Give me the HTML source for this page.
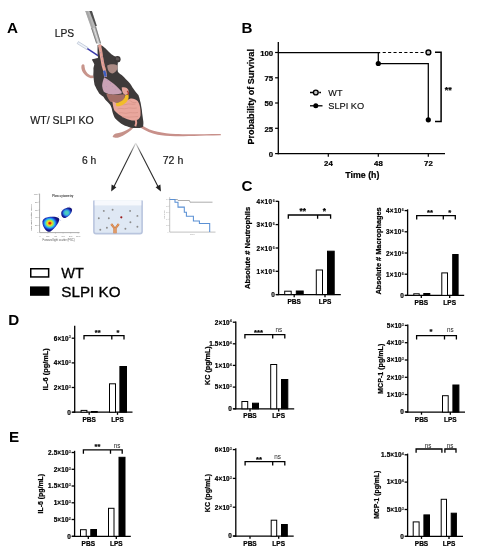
<!DOCTYPE html><html><head><meta charset="utf-8"><title>Figure</title><style>html,body{margin:0;padding:0;background:#fff;}svg{display:block;}</style></head><body>
<svg width="479" height="550" viewBox="0 0 479 550" style="font-family:'Liberation Sans',Arial,Helvetica,sans-serif">
<rect width="479" height="550" fill="#fff"/>
<text x="6.9" y="32.6" font-size="15.2" font-weight="bold">A</text>
<text x="241.5" y="32.7" font-size="15.2" font-weight="bold">B</text>
<text x="241.4" y="190.7" font-size="15.2" font-weight="bold">C</text>
<text x="8.3" y="324.6" font-size="15.2" font-weight="bold">D</text>
<text x="8.9" y="441.9" font-size="15.2" font-weight="bold">E</text>
<text x="54.7" y="37.2" font-size="10.7" font-weight="normal" text-anchor="start" textLength="19.4" lengthAdjust="spacingAndGlyphs" fill="#1a1a1a" stroke="#1a1a1a" stroke-width="0.2">LPS</text>
<text x="30.3" y="124" font-size="11" font-weight="normal" text-anchor="start" textLength="63.4" lengthAdjust="spacingAndGlyphs" fill="#1a1a1a" stroke="#1a1a1a" stroke-width="0.2">WT/ SLPI KO</text>
<text x="82" y="164.3" font-size="11" font-weight="normal" text-anchor="start" textLength="14.3" lengthAdjust="spacingAndGlyphs" fill="#1a1a1a" stroke="#1a1a1a" stroke-width="0.2">6 h</text>
<text x="162.7" y="164.3" font-size="11" font-weight="normal" text-anchor="start" textLength="20.6" lengthAdjust="spacingAndGlyphs" fill="#1a1a1a" stroke="#1a1a1a" stroke-width="0.2">72 h</text>
<g id="mouse">
<!-- tail -->
<path d="M141.8 125.2 C147 128.5 152 130.8 157.7 131.8 C163 132.9 169 133.8 175.5 134 C185 134.3 200 134.2 220.7 133.9 L220.9 135.2 C200 135.6 185 136.2 175.5 136.2 C168 136 162 135.6 157.7 134.8 C151 133.6 146 131 140.6 127.8 Z" fill="#c8908a"/>
<!-- hind foot -->
<path d="M131.8 126.6 C128.5 129.4 125 131.2 121.5 132.2 C119.5 132.8 117.5 133.2 115.8 133.6 C114.4 134.2 113 135.5 112.6 137 C114 137.8 116.5 138 118.5 137.6 C121 136.8 124.5 135 127.6 132.8 C130 131 132.2 129.2 133.8 127.4 Z" fill="#c6928a"/>
<!-- front arm -->
<path d="M81.6 65.2 C80.9 67.4 81.6 70.2 83 72.6 C84.6 75.2 87.4 77.4 90.8 78.2 L93.8 78 L93.6 75.4 L90.6 75.4 C88.4 74.6 86.6 72.8 85.6 70.6 C84.8 68.8 84.6 66.8 84.4 65 C83.6 63.8 82.3 64 81.6 65.2 Z" fill="#c8958c"/>
<!-- body -->
<path d="M97.6 45 L100.5 44.6 C102.5 46 104 47.2 105.6 48.4 C107.5 50.5 109.5 52.5 111.4 54.2 C113 55.5 114.5 56.2 115.6 56.7 L117.9 62.9 C117.4 65 117.4 69 117.9 71.7 C119 72.9 120 74 121.7 75 C123.2 76.4 124.6 77.8 125.9 79.2 C127.3 80.6 128.7 82 130 83.4 C131 84.8 131.8 86.2 132.5 87.6 C133.4 88.7 134.2 89.8 135 90.9 C136.3 92.5 137.5 94 138.4 95 C139.2 97 139.7 99 140.1 100.9 C140.8 103 141 105 141.3 106.7 C141.8 109 142 111 142.2 113.4 C142.5 115.3 142.8 117.3 143 119.2 C143.3 121 143.5 122.4 143.4 123.4 C143.3 125 143.2 126 143 126.7 C141.6 127.6 140 128 138.4 128 L133.4 128 C131.7 128 130.2 127.6 128.8 126.9 C127.6 126.5 126.3 126.1 125 125.7 C123.7 125.1 122.5 124.5 121.3 123.8 C120.2 123 119.2 122.2 118.2 121.3 C117 120.3 116 119.3 115 118.2 C114.4 117.2 113.9 116.1 113.5 115 C113.1 114 112.8 113 112.5 111.9 C112.2 110.6 111.9 109.4 111.6 108.1 C111.2 107.1 110.8 106 110.3 105 C109.6 104.1 108.9 103.3 108.1 102.5 C107.3 101.7 106.5 100.8 105.6 100 C104.9 99 104.1 97.8 103.4 96.7 C102 95.6 100.6 94.5 99.2 93.4 C98.4 92 97.5 90.6 96.7 89.2 C96 87.8 95.3 86.4 94.6 85 C94.3 83.3 94 81.7 93.8 80 C93.6 78.3 93.5 76.6 93.3 75 C93.4 73 93.6 70.4 93.4 68.4 C93.6 66.8 94.2 65.6 94.3 64.2 C93.7 62.8 93.2 61.8 92.6 60.9 L91.8 59.6 C92.8 59.3 93.7 59 94.7 58.8 C95.8 58.5 96.9 58.2 98 58 C97.8 56.6 97.6 55.4 97.6 54.2 C97.5 51 97.5 48 97.6 45 Z" fill="#3e3a3a"/>
<!-- ear -->
<circle cx="117.4" cy="59.2" r="3.2" fill="#3b3737"/>
<path d="M116 57.6 C117.6 56.8 119.3 57.8 119.5 59.6 C118.7 60.8 116.9 61 115.9 59.8 Z" fill="#5c5454"/>
<!-- cheek patch -->
<path d="M107.2 65.4 C110.4 63.6 115 63.8 117.4 65.6 C118 69.4 116 72.8 112.4 73.4 C109.4 73.2 107.4 70.4 107.2 65.4 Z" fill="#ab8a84"/>
<!-- esophagus/trachea (pink strip) -->
<path d="M99.6 45.6 C100.6 50 101.2 53.5 101.5 56.7 C102.1 59.6 102.6 62.3 103 65 C103.6 67 104.2 69 104.7 70.9 C105 72.8 105.4 74.8 105.6 77" fill="none" stroke="#e5a498" stroke-width="3"/>
<path d="M100.8 48 C102 53 102.8 58 103.6 62.5 C104.2 65.5 105 68.5 105.8 71.5" fill="none" stroke="#cf8a82" stroke-width="0.5"/>
<path d="M104.1 70.6 L105.7 76.6" stroke="#3c60c2" stroke-width="2.4"/>
<g fill="#7270bd"><circle cx="100.6" cy="52.8" r="0.4"/><circle cx="101.7" cy="57" r="0.4"/><circle cx="102.6" cy="61" r="0.4"/><circle cx="103.3" cy="65" r="0.4"/></g>
<!-- lungs -->
<path d="M104.2 77.4 C107.5 79 111 81.5 114 84 C117 86.5 120 89.3 121.7 91.8 C121.9 92.6 121.8 93.2 121.4 93.6 C118 94.4 114.5 94.8 110.9 94.6 C108.4 94.2 105.9 93.2 103.8 91.7 C102.9 89.8 102.3 87.8 102.1 85.9 C102.2 83 103 80 104.2 77.4 Z" fill="#c9a2b5"/>
<g fill="#9c84bb" opacity="0.85"><circle cx="107.2" cy="80.2" r="0.45"/><circle cx="110.4" cy="83.3" r="0.45"/><circle cx="112.8" cy="86.3" r="0.4"/><circle cx="115.2" cy="89.2" r="0.4"/><circle cx="106.2" cy="86.4" r="0.4"/></g>
<!-- heart / pink organ -->
<path d="M121.7 87.6 C124.2 86.6 127.6 87.4 128.5 90.2 C129 92.6 127.6 94.6 125.2 95 C123 94.4 121.9 91.4 121.7 87.6 Z" fill="#e3a49a"/>
<path d="M127.1 90.8 C128.3 92 128.7 93.6 128.3 95.2" fill="none" stroke="#b03a30" stroke-width="1.1"/>
<!-- liver -->
<path d="M106.3 93.8 C112 94.8 118.5 95 124.6 94.2 C125.2 96.6 124.8 99.4 122.8 101.4 C119 102.6 114.6 102.7 110.4 101.8 C108.4 99.6 107.1 96.9 106.3 93.8 Z" fill="#a46e66"/>
<!-- intestines -->
<path d="M112.4 101.4 C117 103 122.6 103.6 127.2 100 C130.6 97.4 134.7 98.2 137.7 100.9 C140.2 104.5 140.9 110.5 140.5 115.2 C140 118.8 137.5 120.3 134 120.6 C132.5 120.6 131.2 120.4 130 120 C128.3 119.4 126.6 118.8 125 118.2 C122.9 117 120.8 115.7 118.8 114.4 C117.2 113.2 115.6 112 114.4 110.6 C113.6 108.6 113 106.4 112.4 101.4 Z" fill="#e9a79d"/>
<g fill="none" stroke="#d08b81" stroke-width="0.55">
<path d="M117 105 C120 103.5 123 105.5 126 104.5 C129 103 132 105 135.5 104"/>
<path d="M117.5 109 C120.5 107.5 123.5 109.5 126.5 108.5 C129.5 107 132.5 109 136.8 108"/>
<path d="M119 113 C122 112 125 114 128 113 C131 112 134 113.5 138 112.5"/>
<path d="M122 117 C125 116.5 128 117.5 131 117 C133.5 116.6 136 117 138.2 116.5"/>
<path d="M129.5 100 C131 102 133 103 136.5 102.5"/>
</g>
<path d="M135.8 119.4 C136.5 121.8 136.3 124.2 135.3 126.2" fill="none" stroke="#e59e94" stroke-width="2"/>
<!-- yellow -->
<path d="M116.6 106.2 C121.5 106.4 126.4 103.6 128.2 99.2 C128.9 97.6 128.8 96 128.2 94.6 L125.2 95.2 C125 97.9 123.3 100.2 120.6 101.6 C119.2 102.3 117.8 102.8 116.2 103 C115.8 104 115.9 105.2 116.6 106.2 Z" fill="#f2bd28"/>
<!-- forceps -->
<path d="M85.3 11.1 L91.9 11.1 L101 43.4 L96.4 43.4 Z" fill="#b8b8b8"/>
<path d="M85.3 11.1 L87.6 11.1 L93.2 28 L91.6 28 Z" fill="#a6a6a6"/>
<path d="M89.4 11.1 L91.9 11.1 L96.9 26 L95.2 26 Z" fill="#4e4e4e"/>
<path d="M91.6 28 L96.6 43.4 M95.4 26.5 L100.6 43.4" stroke="#707070" stroke-width="0.8" fill="none"/>
<path d="M93.8 28 L98.6 43.2" stroke="#e6e6e6" stroke-width="0.9" fill="none"/>
<!-- catheter -->
<path d="M78.4 41.6 L88 47.6 L86.8 49.6 L77.2 43.6 Z" fill="#eef2f8" stroke="#9aa8c0" stroke-width="0.5"/>
<path d="M87.4 48.6 L98 55.6" stroke="#3a3aa8" stroke-width="1.5"/>
<!-- nose -->
<path d="M98 45.2 C99 44 101.4 44.2 102 45.6 C101.4 46.8 99.4 47.4 98.4 46.6 Z" fill="#e2a095"/>
</g>

<defs><linearGradient id="ga" x1="0" y1="0" x2="0" y2="1"><stop offset="0" stop-color="#222" stop-opacity="0.1"/><stop offset="0.25" stop-color="#222" stop-opacity="0.9"/><stop offset="1" stop-color="#222"/></linearGradient></defs>
<path d="M135.7 143 L113 188.5 M135.7 143 L159 188.5" stroke="url(#ga)" stroke-width="1.1" fill="none"/>
<path d="M111.2 191.6 L111.6 184.6 L116.4 187.3 Z" fill="#222"/>
<path d="M160.9 191.6 L155.6 187.3 L160.4 184.6 Z" fill="#222"/>
<g id="flow">
<defs>
<radialGradient id="fb1" cx="0.44" cy="0.43" r="0.6">
<stop offset="0" stop-color="#c80a10"/><stop offset="0.1" stop-color="#e4301a"/><stop offset="0.22" stop-color="#f8d81e"/><stop offset="0.34" stop-color="#a8e050"/><stop offset="0.45" stop-color="#38cce0"/><stop offset="0.57" stop-color="#2080ee"/><stop offset="0.68" stop-color="#1a34c0"/><stop offset="0.78" stop-color="#12188a"/><stop offset="1" stop-color="#0e0e70"/>
</radialGradient>
<radialGradient id="fb2" cx="0.5" cy="0.5" r="0.58">
<stop offset="0" stop-color="#58d4b8"/><stop offset="0.3" stop-color="#44c6c8"/><stop offset="0.5" stop-color="#2c88e4"/><stop offset="0.68" stop-color="#1a34b0"/><stop offset="0.82" stop-color="#12188a"/><stop offset="1" stop-color="#0e0e70"/>
</radialGradient>
</defs>
<path d="M39.6 193.8 V232.6 H79.6" fill="none" stroke="#8a8a8a" stroke-width="0.7"/>
<g stroke="#8a8a8a" stroke-width="0.4">
<line x1="38.7" y1="193.8" x2="39.6" y2="193.8"/><line x1="38.7" y1="201.8" x2="39.6" y2="201.8"/><line x1="38.7" y1="209.8" x2="39.6" y2="209.8"/><line x1="38.7" y1="217.6" x2="39.6" y2="217.6"/><line x1="38.7" y1="225.4" x2="39.6" y2="225.4"/>
<line x1="47.8" y1="232.6" x2="47.8" y2="233.5"/><line x1="55.5" y1="232.6" x2="55.5" y2="233.5"/><line x1="63.1" y1="232.6" x2="63.1" y2="233.5"/><line x1="70.7" y1="232.6" x2="70.7" y2="233.5"/><line x1="78.2" y1="232.6" x2="78.2" y2="233.5"/>
</g>
<text x="62.8" y="196.7" font-size="2.9" text-anchor="middle" fill="#333" font-weight="bold">Flow cytometry</text>
<text transform="translate(32.4 217.5) rotate(-90)" font-size="2.5" text-anchor="middle" fill="#555" textLength="26.5" lengthAdjust="spacingAndGlyphs">Side light scatter (SSC)</text>
<text x="58.6" y="241.4" font-size="2.8" text-anchor="middle" fill="#555" textLength="32" lengthAdjust="spacingAndGlyphs">Forward light scatter (FSC)</text>
<g font-size="2" fill="#777" text-anchor="end"><text x="38.3" y="194.5">1000</text><text x="38.3" y="202.5">800</text><text x="38.3" y="210.5">600</text><text x="38.3" y="218.3">400</text><text x="38.3" y="226.1">200</text><text x="38.3" y="233.3">0</text></g>
<g font-size="2" fill="#777" text-anchor="middle"><text x="40" y="236.6">0</text><text x="47.8" y="236.6">200</text><text x="55.5" y="236.6">400</text><text x="63.1" y="236.6">600</text><text x="70.7" y="236.6">800</text><text x="78.2" y="236.6">1000</text></g>
<path d="M42.5 221.5 C43 218 47 217 52 216.8 C55.5 216.7 58 217.2 59 218.6 C59.6 220 58.8 222 57.5 224 C55.5 227 53 230 50.5 231.4 C48.8 232.2 47 231.6 45.6 230 C43.5 227.5 42.2 224.5 42.5 221.5 Z" fill="url(#fb1)"/>
<path d="M61.2 213 C61.5 210 66 207.4 69.5 207.6 C72 207.8 72.6 209.8 71.6 212 C70.5 214.5 68.3 216.8 65.8 217.8 C63.5 218.6 61 216.8 61.2 213 Z" fill="url(#fb2)"/>
<g fill="#3040b0" opacity="0.7"><circle cx="59.8" cy="219.8" r="0.35"/><circle cx="60.8" cy="220.6" r="0.3"/><circle cx="58.6" cy="216.6" r="0.3"/><circle cx="69.8" cy="206.8" r="0.3"/><circle cx="62" cy="209.2" r="0.3"/><circle cx="72" cy="209" r="0.3"/><circle cx="53" cy="216.5" r="0.3"/></g>
</g>
<g id="beaker">
<path d="M93.9 200.6 V231.5 Q93.9 233.6 96 233.6 H140 Q142.1 233.6 142.1 231.5 V200.6" fill="#dfe8f4" stroke="#b9c5de" stroke-width="1.6"/>
<rect x="94.7" y="200.6" width="46.6" height="4.8" fill="#f7f9fd"/>
<g fill="#8c8c8c">
<circle cx="103.8" cy="210.9" r="0.95"/><circle cx="112.6" cy="209.8" r="0.95"/><circle cx="130.1" cy="210.9" r="0.95"/><circle cx="98.8" cy="218.2" r="0.95"/><circle cx="108.8" cy="218.2" r="0.95"/><circle cx="137.4" cy="215.9" r="0.95"/><circle cx="130.4" cy="222.3" r="0.95"/><circle cx="100.3" cy="229.8" r="0.95"/><circle cx="106.9" cy="227.8" r="0.95"/><circle cx="125.4" cy="228.8" r="0.95"/><circle cx="137.4" cy="226.7" r="0.95"/>
</g>
<circle cx="121.3" cy="217.3" r="1.1" fill="#9a1a1a"/>
<path d="M111.2 224 L114.4 228.2 V233.2 M118.8 224 L115.6 228.2 V233.2" fill="none" stroke="#d07a3c" stroke-width="2.1"/>
<path d="M111.2 224 L114.4 228.2 V233.2 M118.8 224 L115.6 228.2 V233.2" fill="none" stroke="#eeb890" stroke-width="0.6"/>
</g>
<g id="surv">
<path d="M169.7 197.2 V232.1 H215.5" fill="none" stroke="#a8a8a8" stroke-width="0.7"/>
<g stroke="#a8a8a8" stroke-width="0.4"><line x1="168.8" y1="199.5" x2="169.7" y2="199.5"/><line x1="168.8" y1="206" x2="169.7" y2="206"/><line x1="168.8" y1="212.6" x2="169.7" y2="212.6"/><line x1="168.8" y1="219.1" x2="169.7" y2="219.1"/><line x1="168.8" y1="225.6" x2="169.7" y2="225.6"/></g>
<g font-size="1.7" fill="#999" text-anchor="end"><text x="168.4" y="200.1">1.0</text><text x="168.4" y="206.6">0.8</text><text x="168.4" y="213.2">0.6</text><text x="168.4" y="219.7">0.4</text><text x="168.4" y="226.2">0.2</text><text x="168.4" y="232.6">0</text></g>
<path d="M169.7 199.5 H177.5 L178 200.5 H189.5 L190 202.2 H212.5" fill="none" stroke="#a4a4a4" stroke-width="0.9"/>
<path d="M169.7 199.5 H175 V202.2 H178 V207.1 H184.3 V212.3 H186.4 V216.2 H193.4 V221 H199.4 V223.5 H209.7 V232.1" fill="none" stroke="#5a90d4" stroke-width="1.05"/>
<text transform="translate(165.2 214.5) rotate(-90)" font-size="2.4" text-anchor="middle" fill="#888">Survival</text>
<text x="192.5" y="235.4" font-size="2.2" text-anchor="middle" fill="#999">Time</text>
</g>

<rect x="30.75" y="268.75" width="17.9" height="8.2" fill="#fff" stroke="#000" stroke-width="1.5"/>
<rect x="30" y="286.4" width="19.4" height="9.4" fill="#000"/>
<text x="61.3" y="278.4" font-size="14.5" font-weight="normal" text-anchor="start" fill="#000" textLength="22.6" lengthAdjust="spacingAndGlyphs" stroke="#000" stroke-width="0.3">WT</text>
<text x="61.3" y="296.7" font-size="14.5" font-weight="normal" text-anchor="start" fill="#000" textLength="59.3" lengthAdjust="spacingAndGlyphs" stroke="#000" stroke-width="0.3">SLPI KO</text>
<line x1="278.3" y1="42" x2="278.3" y2="154.3" stroke="#000" stroke-width="1.3" />
<line x1="277.7" y1="153.7" x2="445" y2="153.7" stroke="#000" stroke-width="1.3" />
<line x1="275.1" y1="52.5" x2="278.3" y2="52.5" stroke="#000" stroke-width="1.2" />
<text x="273.2" y="55.7" font-size="7.8" font-weight="bold" text-anchor="end" stroke="#000" stroke-width="0.22">100</text>
<line x1="275.1" y1="77.8" x2="278.3" y2="77.8" stroke="#000" stroke-width="1.2" />
<text x="273.2" y="81.0" font-size="7.8" font-weight="bold" text-anchor="end" stroke="#000" stroke-width="0.22">75</text>
<line x1="275.1" y1="103" x2="278.3" y2="103" stroke="#000" stroke-width="1.2" />
<text x="273.2" y="106.2" font-size="7.8" font-weight="bold" text-anchor="end" stroke="#000" stroke-width="0.22">50</text>
<line x1="275.1" y1="128.3" x2="278.3" y2="128.3" stroke="#000" stroke-width="1.2" />
<text x="273.2" y="131.5" font-size="7.8" font-weight="bold" text-anchor="end" stroke="#000" stroke-width="0.22">25</text>
<line x1="275.1" y1="153.6" x2="278.3" y2="153.6" stroke="#000" stroke-width="1.2" />
<text x="273.2" y="156.79999999999998" font-size="7.8" font-weight="bold" text-anchor="end" stroke="#000" stroke-width="0.22">0</text>
<line x1="328.3" y1="153.7" x2="328.3" y2="156.8" stroke="#000" stroke-width="1.2" />
<text x="328.40000000000003" y="166.4" font-size="7.8" font-weight="bold" text-anchor="middle" stroke="#000" stroke-width="0.22">24</text>
<line x1="378.3" y1="153.7" x2="378.3" y2="156.8" stroke="#000" stroke-width="1.2" />
<text x="378.40000000000003" y="166.4" font-size="7.8" font-weight="bold" text-anchor="middle" stroke="#000" stroke-width="0.22">48</text>
<line x1="428.3" y1="153.7" x2="428.3" y2="156.8" stroke="#000" stroke-width="1.2" />
<text x="428.40000000000003" y="166.4" font-size="7.8" font-weight="bold" text-anchor="middle" stroke="#000" stroke-width="0.22">72</text>
<text x="362.4" y="177.8" font-size="8.8" font-weight="bold" text-anchor="middle" stroke="#000" stroke-width="0.22">Time (h)</text>
<text transform="translate(253.6 96.8) rotate(-90)" font-size="9" font-weight="bold" text-anchor="middle" textLength="95.4" lengthAdjust="spacingAndGlyphs" stroke="#000" stroke-width="0.22">Probability of Survival</text>
<path d="M278.3 52.5 H380.2 M378.3 52.5 V63.5 H428.3 V119.6" fill="none" stroke="#000" stroke-width="1.25"/>
<path d="M382.7 52.5 H425" fill="none" stroke="#000" stroke-width="1.2" stroke-dasharray="3.1 2.3"/>
<circle cx="378.3" cy="63.5" r="2.6" fill="#000"/>
<circle cx="428.3" cy="119.8" r="2.6" fill="#000"/>
<circle cx="428.4" cy="52.4" r="2.4" fill="#c4c4c4" stroke="#000" stroke-width="1.4"/>
<path d="M435 52.3 H441.1 V121.4 H435" fill="none" stroke="#000" stroke-width="1.5"/>
<text x="448.3" y="92.59" font-size="9" font-weight="bold" text-anchor="middle" stroke="#000" stroke-width="0.22">**</text>
<path d="M310 92.5 H313.5 M319.2 92.5 H321" stroke="#000" stroke-width="1.3"/>
<circle cx="315.8" cy="92.5" r="2.4" fill="#c4c4c4" stroke="#000" stroke-width="1.4"/>
<path d="M310 105.8 H322.5" stroke="#000" stroke-width="1.3"/>
<circle cx="315.8" cy="105.8" r="2.5" fill="#000"/>
<text x="328.3" y="95.8" font-size="9.1" font-weight="normal" text-anchor="start" fill="#111" stroke="#111" stroke-width="0.15">WT</text>
<text x="328.3" y="108.9" font-size="9.1" font-weight="normal" text-anchor="start" fill="#111" textLength="35.9" lengthAdjust="spacingAndGlyphs" stroke="#111" stroke-width="0.15">SLPI KO</text>
<line x1="278.6" y1="201" x2="278.6" y2="295.1" stroke="#000" stroke-width="1.3" />
<line x1="276.3" y1="294.6" x2="340.8" y2="294.6" stroke="#000" stroke-width="1.3" />
<line x1="275.6" y1="201.3" x2="278.6" y2="201.3" stroke="#000" stroke-width="1.3" />
<text x="274.70000000000005" y="203.9" font-size="6.4" font-weight="bold" text-anchor="end" letter-spacing="0.45" stroke="#000" stroke-width="0.22">4×10<tspan font-size="3.7" dy="-2.1" fill="#222" stroke="#222" stroke-width="0.12" letter-spacing="0">6</tspan></text>
<line x1="275.6" y1="224.6" x2="278.6" y2="224.6" stroke="#000" stroke-width="1.3" />
<text x="274.70000000000005" y="227.2" font-size="6.4" font-weight="bold" text-anchor="end" letter-spacing="0.45" stroke="#000" stroke-width="0.22">3×10<tspan font-size="3.7" dy="-2.1" fill="#222" stroke="#222" stroke-width="0.12" letter-spacing="0">6</tspan></text>
<line x1="275.6" y1="248" x2="278.6" y2="248" stroke="#000" stroke-width="1.3" />
<text x="274.70000000000005" y="250.6" font-size="6.4" font-weight="bold" text-anchor="end" letter-spacing="0.45" stroke="#000" stroke-width="0.22">2×10<tspan font-size="3.7" dy="-2.1" fill="#222" stroke="#222" stroke-width="0.12" letter-spacing="0">6</tspan></text>
<line x1="275.6" y1="271.3" x2="278.6" y2="271.3" stroke="#000" stroke-width="1.3" />
<text x="274.70000000000005" y="273.90000000000003" font-size="6.4" font-weight="bold" text-anchor="end" letter-spacing="0.45" stroke="#000" stroke-width="0.22">1×10<tspan font-size="3.7" dy="-2.1" fill="#222" stroke="#222" stroke-width="0.12" letter-spacing="0">6</tspan></text>
<line x1="275.6" y1="294.6" x2="278.6" y2="294.6" stroke="#000" stroke-width="1.3" />
<text x="274.70000000000005" y="297.20000000000005" font-size="6.4" font-weight="bold" text-anchor="end" stroke="#000" stroke-width="0.22">0</text>
<line x1="294.2" y1="294.6" x2="294.2" y2="297.20000000000005" stroke="#000" stroke-width="1.3" />
<text x="294.2" y="304.0" font-size="6.5" font-weight="bold" text-anchor="middle" stroke="#000" stroke-width="0.22">PBS</text>
<line x1="325" y1="294.6" x2="325" y2="297.20000000000005" stroke="#000" stroke-width="1.3" />
<text x="325" y="304.0" font-size="6.5" font-weight="bold" text-anchor="middle" stroke="#000" stroke-width="0.22">LPS</text>
<rect x="284.7" y="291.2" width="6.5" height="3.400000000000034" fill="#fff" stroke="#000" stroke-width="1"/>
<rect x="296.3" y="291.0" width="6.899999999999977" height="3.6000000000000227" fill="#000" stroke="#000" stroke-width="1"/>
<rect x="316.3" y="270.0" width="6.199999999999989" height="24.600000000000023" fill="#fff" stroke="#000" stroke-width="1"/>
<rect x="327.5" y="251.2" width="6.699999999999989" height="43.400000000000034" fill="#000" stroke="#000" stroke-width="1"/>
<path d="M288.3 218.8 V215 H330.6 V218.8 M317.6 215 V218.8" fill="none" stroke="#000" stroke-width="1.3"/>
<text x="302.7" y="213.73" font-size="8.3" font-weight="bold" text-anchor="middle" stroke="#000" stroke-width="0.22">**</text>
<text x="324.3" y="213.73" font-size="8.3" font-weight="bold" text-anchor="middle" stroke="#000" stroke-width="0.22">*</text>
<text transform="translate(249.8 247.9) rotate(-90)" x="0" y="0" font-size="6.9" font-weight="bold" text-anchor="middle" textLength="82" lengthAdjust="spacingAndGlyphs" stroke="#000" stroke-width="0.22">Absolute # Neutrophils</text>
<line x1="407.6" y1="209.3" x2="407.6" y2="295.9" stroke="#000" stroke-width="1.3" />
<line x1="405.3" y1="295.4" x2="464.2" y2="295.4" stroke="#000" stroke-width="1.3" />
<line x1="404.6" y1="210.6" x2="407.6" y2="210.6" stroke="#000" stroke-width="1.3" />
<text x="403.70000000000005" y="213.2" font-size="6.4" font-weight="bold" text-anchor="end" letter-spacing="0.3" stroke="#000" stroke-width="0.22">4×10<tspan font-size="3.7" dy="-2.1" fill="#222" stroke="#222" stroke-width="0.12" letter-spacing="0">6</tspan></text>
<line x1="404.6" y1="231.8" x2="407.6" y2="231.8" stroke="#000" stroke-width="1.3" />
<text x="403.70000000000005" y="234.4" font-size="6.4" font-weight="bold" text-anchor="end" letter-spacing="0.3" stroke="#000" stroke-width="0.22">3×10<tspan font-size="3.7" dy="-2.1" fill="#222" stroke="#222" stroke-width="0.12" letter-spacing="0">6</tspan></text>
<line x1="404.6" y1="253" x2="407.6" y2="253" stroke="#000" stroke-width="1.3" />
<text x="403.70000000000005" y="255.6" font-size="6.4" font-weight="bold" text-anchor="end" letter-spacing="0.3" stroke="#000" stroke-width="0.22">2×10<tspan font-size="3.7" dy="-2.1" fill="#222" stroke="#222" stroke-width="0.12" letter-spacing="0">6</tspan></text>
<line x1="404.6" y1="274.2" x2="407.6" y2="274.2" stroke="#000" stroke-width="1.3" />
<text x="403.70000000000005" y="276.8" font-size="6.4" font-weight="bold" text-anchor="end" letter-spacing="0.3" stroke="#000" stroke-width="0.22">1×10<tspan font-size="3.7" dy="-2.1" fill="#222" stroke="#222" stroke-width="0.12" letter-spacing="0">6</tspan></text>
<line x1="404.6" y1="295.4" x2="407.6" y2="295.4" stroke="#000" stroke-width="1.3" />
<text x="403.70000000000005" y="298.0" font-size="6.4" font-weight="bold" text-anchor="end" stroke="#000" stroke-width="0.22">0</text>
<line x1="421.3" y1="295.4" x2="421.3" y2="298.0" stroke="#000" stroke-width="1.3" />
<text x="421.3" y="304.79999999999995" font-size="6.5" font-weight="bold" text-anchor="middle" stroke="#000" stroke-width="0.22">PBS</text>
<line x1="449.7" y1="295.4" x2="449.7" y2="298.0" stroke="#000" stroke-width="1.3" />
<text x="449.7" y="304.79999999999995" font-size="6.5" font-weight="bold" text-anchor="middle" stroke="#000" stroke-width="0.22">LPS</text>
<rect x="413.8" y="293.8" width="5.399999999999977" height="1.599999999999966" fill="#fff" stroke="#000" stroke-width="1"/>
<rect x="423.8" y="293.5" width="6.0" height="1.8999999999999773" fill="#000" stroke="#000" stroke-width="1"/>
<rect x="441.8" y="272.9" width="5.699999999999989" height="22.5" fill="#fff" stroke="#000" stroke-width="1"/>
<rect x="452.7" y="254.5" width="5.400000000000034" height="40.89999999999998" fill="#000" stroke="#000" stroke-width="1"/>
<path d="M416.7 219.5 V215.7 H455.3 V219.5 M443.3 215.7 V219.5" fill="none" stroke="#000" stroke-width="1.3"/>
<text x="430" y="215.08" font-size="7.6" font-weight="bold" text-anchor="middle" stroke="#000" stroke-width="0.22">**</text>
<text x="449.7" y="214.58" font-size="7.6" font-weight="bold" text-anchor="middle" stroke="#000" stroke-width="0.22">*</text>
<text transform="translate(381.3 250.9) rotate(-90)" x="0" y="0" font-size="6.9" font-weight="bold" text-anchor="middle" textLength="87.2" lengthAdjust="spacingAndGlyphs" stroke="#000" stroke-width="0.22">Absolute # Macrophages</text>
<line x1="74.7" y1="325.7" x2="74.7" y2="412.7" stroke="#000" stroke-width="1.3" />
<line x1="72.5" y1="412.2" x2="132.5" y2="412.2" stroke="#000" stroke-width="1.3" />
<line x1="71.7" y1="338.2" x2="74.7" y2="338.2" stroke="#000" stroke-width="1.3" />
<text x="70.8" y="340.5" font-size="6.4" font-weight="bold" text-anchor="end" letter-spacing="0.15" stroke="#000" stroke-width="0.22">6×10<tspan font-size="3.7" dy="-2.1" fill="#222" stroke="#222" stroke-width="0.12" letter-spacing="0">3</tspan></text>
<line x1="71.7" y1="362.9" x2="74.7" y2="362.9" stroke="#000" stroke-width="1.3" />
<text x="70.8" y="365.2" font-size="6.4" font-weight="bold" text-anchor="end" letter-spacing="0.15" stroke="#000" stroke-width="0.22">4×10<tspan font-size="3.7" dy="-2.1" fill="#222" stroke="#222" stroke-width="0.12" letter-spacing="0">3</tspan></text>
<line x1="71.7" y1="387.5" x2="74.7" y2="387.5" stroke="#000" stroke-width="1.3" />
<text x="70.8" y="389.8" font-size="6.4" font-weight="bold" text-anchor="end" letter-spacing="0.15" stroke="#000" stroke-width="0.22">2×10<tspan font-size="3.7" dy="-2.1" fill="#222" stroke="#222" stroke-width="0.12" letter-spacing="0">3</tspan></text>
<line x1="71.7" y1="412.2" x2="74.7" y2="412.2" stroke="#000" stroke-width="1.3" />
<text x="70.8" y="414.5" font-size="6.4" font-weight="bold" text-anchor="end" stroke="#000" stroke-width="0.22">0</text>
<line x1="89.2" y1="412.2" x2="89.2" y2="414.8" stroke="#000" stroke-width="1.3" />
<text x="89.2" y="421.59999999999997" font-size="6.5" font-weight="bold" text-anchor="middle" stroke="#000" stroke-width="0.22">PBS</text>
<line x1="117.5" y1="412.2" x2="117.5" y2="414.8" stroke="#000" stroke-width="1.3" />
<text x="117.5" y="421.59999999999997" font-size="6.5" font-weight="bold" text-anchor="middle" stroke="#000" stroke-width="0.22">LPS</text>
<rect x="81.1" y="410.4" width="5.800000000000011" height="1.8000000000000114" fill="#fff" stroke="#000" stroke-width="1"/>
<rect x="91.5" y="411.5" width="5.700000000000003" height="0.6999999999999886" fill="#000" stroke="#000" stroke-width="1"/>
<rect x="109.5" y="383.8" width="6" height="28.399999999999977" fill="#fff" stroke="#000" stroke-width="1"/>
<rect x="119.9" y="366.5" width="6.599999999999994" height="45.69999999999999" fill="#000" stroke="#000" stroke-width="1"/>
<path d="M84 339.40000000000003 V335.6 H124 V339.40000000000003 M111.8 335.6 V339.40000000000003" fill="none" stroke="#000" stroke-width="1.3"/>
<text x="97.7" y="335.12" font-size="7.4" font-weight="bold" text-anchor="middle" stroke="#000" stroke-width="0.22">**</text>
<text x="118" y="334.67" font-size="7.4" font-weight="bold" text-anchor="middle" stroke="#000" stroke-width="0.22">*</text>
<text transform="translate(47.9 369.3) rotate(-90)" x="0" y="0" font-size="7.3" font-weight="bold" text-anchor="middle" textLength="42.2" lengthAdjust="spacingAndGlyphs" stroke="#000" stroke-width="0.22">IL-6 (pg/mL)</text>
<line x1="235.8" y1="321.4" x2="235.8" y2="409.3" stroke="#000" stroke-width="1.3" />
<line x1="233.3" y1="408.8" x2="294.2" y2="408.8" stroke="#000" stroke-width="1.3" />
<line x1="232.8" y1="322.2" x2="235.8" y2="322.2" stroke="#000" stroke-width="1.3" />
<text x="231.9" y="324.5" font-size="6.4" font-weight="bold" text-anchor="end" letter-spacing="0.15" stroke="#000" stroke-width="0.22">2×10<tspan font-size="3.7" dy="-2.1" fill="#222" stroke="#222" stroke-width="0.12" letter-spacing="0">4</tspan></text>
<line x1="232.8" y1="343.8" x2="235.8" y2="343.8" stroke="#000" stroke-width="1.3" />
<text x="231.9" y="346.1" font-size="6.4" font-weight="bold" text-anchor="end" letter-spacing="0.15" stroke="#000" stroke-width="0.22">1.5×10<tspan font-size="3.7" dy="-2.1" fill="#222" stroke="#222" stroke-width="0.12" letter-spacing="0">4</tspan></text>
<line x1="232.8" y1="365.4" x2="235.8" y2="365.4" stroke="#000" stroke-width="1.3" />
<text x="231.9" y="367.7" font-size="6.4" font-weight="bold" text-anchor="end" letter-spacing="0.15" stroke="#000" stroke-width="0.22">1×10<tspan font-size="3.7" dy="-2.1" fill="#222" stroke="#222" stroke-width="0.12" letter-spacing="0">4</tspan></text>
<line x1="232.8" y1="387.1" x2="235.8" y2="387.1" stroke="#000" stroke-width="1.3" />
<text x="231.9" y="389.40000000000003" font-size="6.4" font-weight="bold" text-anchor="end" letter-spacing="0.15" stroke="#000" stroke-width="0.22">5×10<tspan font-size="3.7" dy="-2.1" fill="#222" stroke="#222" stroke-width="0.12" letter-spacing="0">3</tspan></text>
<line x1="232.8" y1="408.8" x2="235.8" y2="408.8" stroke="#000" stroke-width="1.3" />
<text x="231.9" y="411.1" font-size="6.4" font-weight="bold" text-anchor="end" stroke="#000" stroke-width="0.22">0</text>
<line x1="250" y1="408.8" x2="250" y2="411.40000000000003" stroke="#000" stroke-width="1.3" />
<text x="250" y="418.2" font-size="6.5" font-weight="bold" text-anchor="middle" stroke="#000" stroke-width="0.22">PBS</text>
<line x1="278.7" y1="408.8" x2="278.7" y2="411.40000000000003" stroke="#000" stroke-width="1.3" />
<text x="278.7" y="418.2" font-size="6.5" font-weight="bold" text-anchor="middle" stroke="#000" stroke-width="0.22">LPS</text>
<rect x="241.9" y="401.5" width="5.799999999999983" height="7.300000000000011" fill="#fff" stroke="#000" stroke-width="1"/>
<rect x="252.5" y="403.2" width="6" height="5.600000000000023" fill="#000" stroke="#000" stroke-width="1"/>
<rect x="270.7" y="364.5" width="6.0" height="44.30000000000001" fill="#fff" stroke="#000" stroke-width="1"/>
<rect x="281.5" y="379.5" width="6.300000000000011" height="29.30000000000001" fill="#000" stroke="#000" stroke-width="1"/>
<path d="M244.9 338.45 V334.65 H284.8 V338.45 M272.7 334.65 V338.45" fill="none" stroke="#000" stroke-width="1.3"/>
<text x="258.5" y="334.73" font-size="7.6" font-weight="bold" text-anchor="middle" stroke="#000" stroke-width="0.22">***</text>
<text x="278.8" y="332.3" font-size="6.3" text-anchor="middle" fill="#222">ns</text>
<text transform="translate(209.8 365.6) rotate(-90)" x="0" y="0" font-size="7.2" font-weight="bold" text-anchor="middle" textLength="38.7" lengthAdjust="spacingAndGlyphs" stroke="#000" stroke-width="0.22">KC (pg/mL)</text>
<line x1="407.8" y1="324.4" x2="407.8" y2="412.6" stroke="#000" stroke-width="1.3" />
<line x1="405.5" y1="412.1" x2="465" y2="412.1" stroke="#000" stroke-width="1.3" />
<line x1="404.8" y1="325.4" x2="407.8" y2="325.4" stroke="#000" stroke-width="1.3" />
<text x="403.90000000000003" y="327.7" font-size="6.4" font-weight="bold" text-anchor="end" letter-spacing="0.15" stroke="#000" stroke-width="0.22">5×10<tspan font-size="3.7" dy="-2.1" fill="#222" stroke="#222" stroke-width="0.12" letter-spacing="0">3</tspan></text>
<line x1="404.8" y1="342.7" x2="407.8" y2="342.7" stroke="#000" stroke-width="1.3" />
<text x="403.90000000000003" y="345.0" font-size="6.4" font-weight="bold" text-anchor="end" letter-spacing="0.15" stroke="#000" stroke-width="0.22">4×10<tspan font-size="3.7" dy="-2.1" fill="#222" stroke="#222" stroke-width="0.12" letter-spacing="0">3</tspan></text>
<line x1="404.8" y1="360" x2="407.8" y2="360" stroke="#000" stroke-width="1.3" />
<text x="403.90000000000003" y="362.3" font-size="6.4" font-weight="bold" text-anchor="end" letter-spacing="0.15" stroke="#000" stroke-width="0.22">3×10<tspan font-size="3.7" dy="-2.1" fill="#222" stroke="#222" stroke-width="0.12" letter-spacing="0">3</tspan></text>
<line x1="404.8" y1="377.3" x2="407.8" y2="377.3" stroke="#000" stroke-width="1.3" />
<text x="403.90000000000003" y="379.6" font-size="6.4" font-weight="bold" text-anchor="end" letter-spacing="0.15" stroke="#000" stroke-width="0.22">2×10<tspan font-size="3.7" dy="-2.1" fill="#222" stroke="#222" stroke-width="0.12" letter-spacing="0">3</tspan></text>
<line x1="404.8" y1="394.6" x2="407.8" y2="394.6" stroke="#000" stroke-width="1.3" />
<text x="403.90000000000003" y="396.90000000000003" font-size="6.4" font-weight="bold" text-anchor="end" letter-spacing="0.15" stroke="#000" stroke-width="0.22">1×10<tspan font-size="3.7" dy="-2.1" fill="#222" stroke="#222" stroke-width="0.12" letter-spacing="0">3</tspan></text>
<line x1="404.8" y1="411.9" x2="407.8" y2="411.9" stroke="#000" stroke-width="1.3" />
<text x="403.90000000000003" y="414.2" font-size="6.4" font-weight="bold" text-anchor="end" stroke="#000" stroke-width="0.22">0</text>
<line x1="421.5" y1="412.1" x2="421.5" y2="414.70000000000005" stroke="#000" stroke-width="1.3" />
<text x="421.5" y="421.5" font-size="6.5" font-weight="bold" text-anchor="middle" stroke="#000" stroke-width="0.22">PBS</text>
<line x1="450.3" y1="412.1" x2="450.3" y2="414.70000000000005" stroke="#000" stroke-width="1.3" />
<text x="450.3" y="421.5" font-size="6.5" font-weight="bold" text-anchor="middle" stroke="#000" stroke-width="0.22">LPS</text>
<rect x="442.5" y="395.7" width="5.699999999999989" height="16.400000000000034" fill="#fff" stroke="#000" stroke-width="1"/>
<rect x="452.9" y="385.0" width="6.0" height="27.100000000000023" fill="#000" stroke="#000" stroke-width="1"/>
<path d="M416.6 339.5 V335.7 H456.4 V339.5 M444.5 335.7 V339.5" fill="none" stroke="#000" stroke-width="1.3"/>
<text x="430.9" y="333.58" font-size="7.6" font-weight="bold" text-anchor="middle" stroke="#000" stroke-width="0.22">*</text>
<text x="450.4" y="331.7" font-size="6.3" text-anchor="middle" fill="#222">ns</text>
<text transform="translate(382.5 368.8) rotate(-90)" x="0" y="0" font-size="7.4" font-weight="bold" text-anchor="middle" textLength="50.2" lengthAdjust="spacingAndGlyphs" stroke="#000" stroke-width="0.22">MCP-1 (pg/mL)</text>
<line x1="74.6" y1="450.8" x2="74.6" y2="536.8" stroke="#000" stroke-width="1.3" />
<line x1="72" y1="536.3" x2="130.8" y2="536.3" stroke="#000" stroke-width="1.3" />
<line x1="71.6" y1="452.5" x2="74.6" y2="452.5" stroke="#000" stroke-width="1.3" />
<text x="70.69999999999999" y="454.8" font-size="6.4" font-weight="bold" text-anchor="end" letter-spacing="0.15" stroke="#000" stroke-width="0.22">2.5×10<tspan font-size="3.7" dy="-2.1" fill="#222" stroke="#222" stroke-width="0.12" letter-spacing="0">3</tspan></text>
<line x1="71.6" y1="469.3" x2="74.6" y2="469.3" stroke="#000" stroke-width="1.3" />
<text x="70.69999999999999" y="471.6" font-size="6.4" font-weight="bold" text-anchor="end" letter-spacing="0.15" stroke="#000" stroke-width="0.22">2×10<tspan font-size="3.7" dy="-2.1" fill="#222" stroke="#222" stroke-width="0.12" letter-spacing="0">3</tspan></text>
<line x1="71.6" y1="486" x2="74.6" y2="486" stroke="#000" stroke-width="1.3" />
<text x="70.69999999999999" y="488.3" font-size="6.4" font-weight="bold" text-anchor="end" letter-spacing="0.15" stroke="#000" stroke-width="0.22">1.5×10<tspan font-size="3.7" dy="-2.1" fill="#222" stroke="#222" stroke-width="0.12" letter-spacing="0">3</tspan></text>
<line x1="71.6" y1="502.8" x2="74.6" y2="502.8" stroke="#000" stroke-width="1.3" />
<text x="70.69999999999999" y="505.1" font-size="6.4" font-weight="bold" text-anchor="end" letter-spacing="0.15" stroke="#000" stroke-width="0.22">1×10<tspan font-size="3.7" dy="-2.1" fill="#222" stroke="#222" stroke-width="0.12" letter-spacing="0">3</tspan></text>
<line x1="71.6" y1="519.5" x2="74.6" y2="519.5" stroke="#000" stroke-width="1.3" />
<text x="70.69999999999999" y="521.8" font-size="6.4" font-weight="bold" text-anchor="end" letter-spacing="0.15" stroke="#000" stroke-width="0.22">5×10<tspan font-size="3.7" dy="-2.1" fill="#222" stroke="#222" stroke-width="0.12" letter-spacing="0">2</tspan></text>
<line x1="71.6" y1="536.3" x2="74.6" y2="536.3" stroke="#000" stroke-width="1.3" />
<text x="70.69999999999999" y="538.5999999999999" font-size="6.4" font-weight="bold" text-anchor="end" stroke="#000" stroke-width="0.22">0</text>
<line x1="88.3" y1="536.3" x2="88.3" y2="538.9" stroke="#000" stroke-width="1.3" />
<text x="88.3" y="545.6999999999999" font-size="6.5" font-weight="bold" text-anchor="middle" stroke="#000" stroke-width="0.22">PBS</text>
<line x1="116.3" y1="536.3" x2="116.3" y2="538.9" stroke="#000" stroke-width="1.3" />
<text x="116.3" y="545.6999999999999" font-size="6.5" font-weight="bold" text-anchor="middle" stroke="#000" stroke-width="0.22">LPS</text>
<rect x="80.5" y="529.7" width="5.700000000000003" height="6.599999999999909" fill="#fff" stroke="#000" stroke-width="1"/>
<rect x="90.8" y="529.5" width="5.700000000000003" height="6.7999999999999545" fill="#000" stroke="#000" stroke-width="1"/>
<rect x="108.5" y="508.3" width="5.5" height="27.999999999999943" fill="#fff" stroke="#000" stroke-width="1"/>
<rect x="119.0" y="457.3" width="6.0" height="78.99999999999994" fill="#000" stroke="#000" stroke-width="1"/>
<path d="M83.4 453.7 V449.9 H122.2 V453.7 M110.5 449.9 V453.7" fill="none" stroke="#000" stroke-width="1.3"/>
<text x="97.5" y="449.37" font-size="7.4" font-weight="bold" text-anchor="middle" stroke="#000" stroke-width="0.22">**</text>
<text x="117.1" y="447.7" font-size="6.3" text-anchor="middle" fill="#222">ns</text>
<text transform="translate(43.1 493.7) rotate(-90)" x="0" y="0" font-size="6.9" font-weight="bold" text-anchor="middle" textLength="39.5" lengthAdjust="spacingAndGlyphs" stroke="#000" stroke-width="0.22">IL-6 (pg/mL)</text>
<line x1="235.8" y1="448.3" x2="235.8" y2="536.7" stroke="#000" stroke-width="1.3" />
<line x1="233.3" y1="536.2" x2="293.7" y2="536.2" stroke="#000" stroke-width="1.3" />
<line x1="232.8" y1="449.6" x2="235.8" y2="449.6" stroke="#000" stroke-width="1.3" />
<text x="231.9" y="451.90000000000003" font-size="6.4" font-weight="bold" text-anchor="end" letter-spacing="0.15" stroke="#000" stroke-width="0.22">6×10<tspan font-size="3.7" dy="-2.1" fill="#222" stroke="#222" stroke-width="0.12" letter-spacing="0">3</tspan></text>
<line x1="232.8" y1="478.4" x2="235.8" y2="478.4" stroke="#000" stroke-width="1.3" />
<text x="231.9" y="480.7" font-size="6.4" font-weight="bold" text-anchor="end" letter-spacing="0.15" stroke="#000" stroke-width="0.22">4×10<tspan font-size="3.7" dy="-2.1" fill="#222" stroke="#222" stroke-width="0.12" letter-spacing="0">3</tspan></text>
<line x1="232.8" y1="507.2" x2="235.8" y2="507.2" stroke="#000" stroke-width="1.3" />
<text x="231.9" y="509.5" font-size="6.4" font-weight="bold" text-anchor="end" letter-spacing="0.15" stroke="#000" stroke-width="0.22">2×10<tspan font-size="3.7" dy="-2.1" fill="#222" stroke="#222" stroke-width="0.12" letter-spacing="0">3</tspan></text>
<line x1="232.8" y1="536" x2="235.8" y2="536" stroke="#000" stroke-width="1.3" />
<text x="231.9" y="538.3" font-size="6.4" font-weight="bold" text-anchor="end" stroke="#000" stroke-width="0.22">0</text>
<line x1="250" y1="536.2" x2="250" y2="538.8000000000001" stroke="#000" stroke-width="1.3" />
<text x="250" y="545.6" font-size="6.5" font-weight="bold" text-anchor="middle" stroke="#000" stroke-width="0.22">PBS</text>
<line x1="278.7" y1="536.2" x2="278.7" y2="538.8000000000001" stroke="#000" stroke-width="1.3" />
<text x="278.7" y="545.6" font-size="6.5" font-weight="bold" text-anchor="middle" stroke="#000" stroke-width="0.22">LPS</text>
<rect x="271.2" y="520.2" width="5.5" height="16.0" fill="#fff" stroke="#000" stroke-width="1"/>
<rect x="281.5" y="524.5" width="5.800000000000011" height="11.700000000000045" fill="#000" stroke="#000" stroke-width="1"/>
<path d="M245.1 465.5 V461.7 H284.8 V465.5 M272.7 461.7 V465.5" fill="none" stroke="#000" stroke-width="1.3"/>
<text x="258.9" y="461.78" font-size="7.6" font-weight="bold" text-anchor="middle" stroke="#000" stroke-width="0.22">**</text>
<text x="277.5" y="459" font-size="6.3" text-anchor="middle" fill="#222">ns</text>
<text transform="translate(210.1 493.1) rotate(-90)" x="0" y="0" font-size="7.2" font-weight="bold" text-anchor="middle" textLength="38.2" lengthAdjust="spacingAndGlyphs" stroke="#000" stroke-width="0.22">KC (pg/mL)</text>
<line x1="407.6" y1="453.6" x2="407.6" y2="536.8" stroke="#000" stroke-width="1.3" />
<line x1="405.5" y1="536.3" x2="463" y2="536.3" stroke="#000" stroke-width="1.3" />
<line x1="404.6" y1="454.8" x2="407.6" y2="454.8" stroke="#000" stroke-width="1.3" />
<text x="403.70000000000005" y="457.1" font-size="6.4" font-weight="bold" text-anchor="end" letter-spacing="0.15" stroke="#000" stroke-width="0.22">1.5×10<tspan font-size="3.7" dy="-2.1" fill="#222" stroke="#222" stroke-width="0.12" letter-spacing="0">4</tspan></text>
<line x1="404.6" y1="482.1" x2="407.6" y2="482.1" stroke="#000" stroke-width="1.3" />
<text x="403.70000000000005" y="484.40000000000003" font-size="6.4" font-weight="bold" text-anchor="end" letter-spacing="0.15" stroke="#000" stroke-width="0.22">1×10<tspan font-size="3.7" dy="-2.1" fill="#222" stroke="#222" stroke-width="0.12" letter-spacing="0">4</tspan></text>
<line x1="404.6" y1="509.5" x2="407.6" y2="509.5" stroke="#000" stroke-width="1.3" />
<text x="403.70000000000005" y="511.8" font-size="6.4" font-weight="bold" text-anchor="end" letter-spacing="0.15" stroke="#000" stroke-width="0.22">5×10<tspan font-size="3.7" dy="-2.1" fill="#222" stroke="#222" stroke-width="0.12" letter-spacing="0">3</tspan></text>
<line x1="404.6" y1="536.3" x2="407.6" y2="536.3" stroke="#000" stroke-width="1.3" />
<text x="403.70000000000005" y="538.5999999999999" font-size="6.4" font-weight="bold" text-anchor="end" stroke="#000" stroke-width="0.22">0</text>
<line x1="421.5" y1="536.3" x2="421.5" y2="538.9" stroke="#000" stroke-width="1.3" />
<text x="421.5" y="545.6999999999999" font-size="6.5" font-weight="bold" text-anchor="middle" stroke="#000" stroke-width="0.22">PBS</text>
<line x1="449" y1="536.3" x2="449" y2="538.9" stroke="#000" stroke-width="1.3" />
<text x="449" y="545.6999999999999" font-size="6.5" font-weight="bold" text-anchor="middle" stroke="#000" stroke-width="0.22">LPS</text>
<rect x="413.2" y="521.9" width="5.900000000000034" height="14.399999999999977" fill="#fff" stroke="#000" stroke-width="1"/>
<rect x="423.9" y="514.9" width="5.600000000000023" height="21.399999999999977" fill="#000" stroke="#000" stroke-width="1"/>
<rect x="441.2" y="499.3" width="5.300000000000011" height="36.99999999999994" fill="#fff" stroke="#000" stroke-width="1"/>
<rect x="451.2" y="513.2" width="5.199999999999989" height="23.09999999999991" fill="#000" stroke="#000" stroke-width="1"/>
<path d="M416.1 452.8 V449 H441.9 V452.8 M444.9 452.8 V449 H456 V452.8" fill="none" stroke="#000" stroke-width="1.3"/>
<text x="428.2" y="447.6" font-size="6.3" text-anchor="middle" fill="#222">ns</text>
<text x="450.2" y="447.6" font-size="6.3" text-anchor="middle" fill="#222">ns</text>
<text transform="translate(378.9 494.8) rotate(-90)" x="0" y="0" font-size="7.2" font-weight="bold" text-anchor="middle" textLength="48" lengthAdjust="spacingAndGlyphs" stroke="#000" stroke-width="0.22">MCP-1 (pg/mL)</text>
</svg></body></html>
